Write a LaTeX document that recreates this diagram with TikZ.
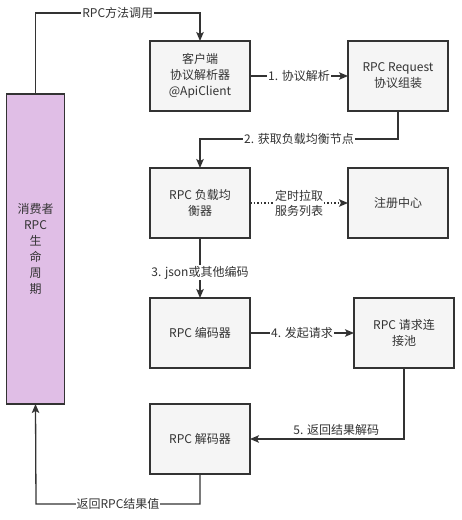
\documentclass[tikz,border=0pt]{standalone}
\usepackage{fontspec}
\setmainfont{Noto Sans CJK SC}
\usepackage{xcolor}
\usetikzlibrary{positioning,arrows.meta}

\definecolor{linegray}{HTML}{333333}
\definecolor{boxgray}{HTML}{F5F5F5}
\definecolor{lifepurple}{HTML}{E0BEE6}

\tikzset{
  block/.style={rectangle,draw=linegray,line width=1.3pt,fill=boxgray,minimum width=100pt,minimum height=70pt,outer sep=0pt,align=center,text=linegray,font=\fontsize{12}{16}\selectfont},
  arr/.style={draw=linegray,line width=1.3pt,-{Stealth[length=9pt,width=7.5pt,inset=2pt]}},
  lbl/.style={fill=white,inner sep=1pt,text=linegray,font=\fontsize{12}{15}\selectfont}
}

\begin{document}
\begin{tikzpicture}[x=1pt,y=1pt]
\useasboundingbox (0,0) rectangle (462,-520);
\node [block,fill=lifepurple,minimum width=58pt,minimum height=310pt] (life) at (35.5,-249) {消费者\\RPC\\生\\命\\周\\期};
\node [block] (client) at (200,-76) {客户端\\协议解析器\\@ApiClient};
\node [block,right=98pt of client] (request) {RPC Request\\协议组装};
\node [block,below=57pt of client] (balancer) {RPC 负载均\\衡器};
\node [block,right=98pt of balancer] (registry) {注册中心};
\node [block,below=60pt of balancer] (encoder) {RPC 编码器};
\node [block,right=104pt of encoder] (pool) {RPC 请求连\\接池};
\node [block,below=36pt of encoder] (decoder) {RPC 解码器};
\coordinate (callturn) at (200,-13);
\coordinate (balturn) at (200,-139);
\coordinate (retturn) at (36,-504);
% connectors
\draw [arr] (life.north) |- node[lbl,pos=0.75]{RPC方法调用} (callturn) -- (client);
\draw [arr] (client) -- node[lbl]{1. 协议解析} (request);
\draw [arr] (request.south) |- node[lbl,pos=0.75]{2. 获取负载均衡节点} (balturn) -- (balancer);
\draw [arr,dash pattern=on 1.5pt off 2pt] (balancer) -- node[lbl,align=center]{定时拉取\\服务列表} (registry);
\draw [arr] (balancer) -- node[lbl,pos=0.58]{3. json或其他编码} (encoder);
\draw [arr] (encoder) -- node[lbl]{4. 发起请求} (pool);
\draw [arr] (pool.south) |- node[lbl,pos=0.72,above=2pt]{5. 返回结果解码} (decoder.east);
\draw [arr] (decoder.south) |- node[lbl,pos=0.75]{返回RPC结果值} (retturn) -- (life.south);
\end{tikzpicture}
\end{document}
